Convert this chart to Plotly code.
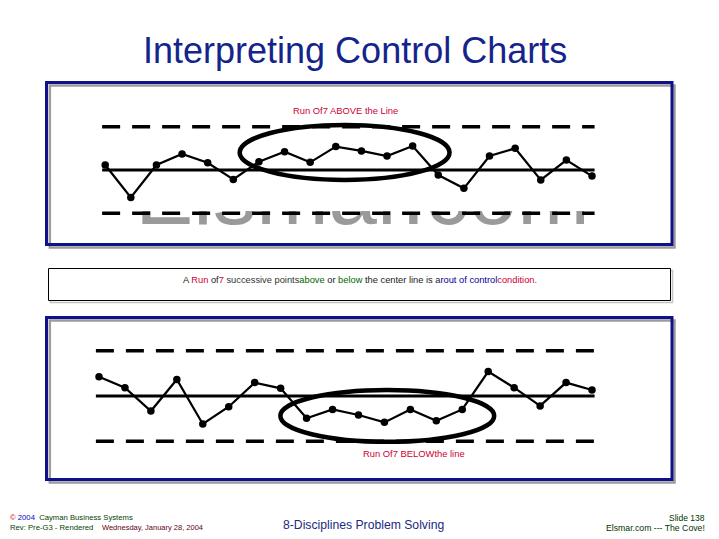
import plotly.graph_objects as go

W, H = 719, 539
FONT = "Liberation Sans, Arial, sans-serif"

# ---------------- data ----------------
points = list(range(1, 21))
top_values = [0.35, -1.9, 0.35, 1.11, 0.5, -0.65, 0.58, 1.27, 0.53, 1.62,
              1.32, 0.97, 1.66, -0.35, -1.27, 0.97, 1.5, -0.69, 0.69, -0.42]
bottom_values = [1.28, 0.55, -1.0, 1.1, -1.86, -0.71, 0.89, 0.51, -1.48, -0.89,
                 -1.26, -1.75, -0.89, -1.64, -0.89, 1.62, 0.55, -0.66, 0.89, 0.4]
ucl, center, lcl = 3, 0, -3
limit_span = [0.88, 20.1]
top_run = [6.25, 14.44, -0.69, 3.12]      # x0, x1, y0, y1 of the "run" ellipse
bottom_run = [7.99, 16.23, -3.04, 0.4]
top_label = "Run Of7 ABOVE the Line"
bottom_label = "Run Of7 BELOWthe line"
title = "Interpreting Control Charts"
watermark = "Elsmar.com"

# ---------------- helpers (pixel layout) ----------------
def px_x(v):
    return v / W

def px_y(v):
    return 1 - v / H

def x_axis(first_px, last_px, dom0, dom1):
    ppu = (last_px - first_px) / (points[-1] - points[0])
    r0 = points[0] - (first_px - dom0) / ppu
    r1 = points[0] + (dom1 - first_px) / ppu
    return dict(domain=[dom0 / W, dom1 / W], range=[r0, r1], visible=False, fixedrange=True)

def y_axis(center_px, ucl_px, top_px, bot_px):
    ppu = (center_px - ucl_px) / ucl
    lo = (center_px - bot_px) / ppu
    hi = (center_px - top_px) / ppu
    return dict(domain=[1 - bot_px / H, 1 - top_px / H], range=[lo, hi], visible=False, fixedrange=True)

fig = go.Figure()

# watermark (subplot 1, clipped band)
fig.add_trace(go.Scatter(x=[362.5], y=[202.5], mode="text", text=[watermark],
                         textposition="middle center", cliponaxis=True,
                         textfont=dict(family=FONT, size=87, color="#9a9a9a"),
                         xaxis="x", yaxis="y", hoverinfo="skip", showlegend=False))

def add_chart(values, xa, ya):
    for lvl in (ucl, lcl):
        fig.add_trace(go.Scatter(x=limit_span, y=[lvl, lvl], mode="lines",
                                 line=dict(color="black", width=3.5, dash="18px,12px"),
                                 xaxis=xa, yaxis=ya, hoverinfo="skip", showlegend=False))
    fig.add_trace(go.Scatter(x=limit_span, y=[center, center], mode="lines",
                             line=dict(color="black", width=3),
                             xaxis=xa, yaxis=ya, hoverinfo="skip", showlegend=False))
    fig.add_trace(go.Scatter(x=points, y=values, mode="lines+markers",
                             line=dict(color="black", width=2.2),
                             marker=dict(color="black", size=7.5),
                             xaxis=xa, yaxis=ya, hoverinfo="skip", showlegend=False))

add_chart(top_values, "x2", "y2")
add_chart(bottom_values, "x3", "y3")

shapes = []
# middle text box
shapes.append(dict(type="rect", xref="paper", yref="paper", layer="below",
                   x0=px_x(50.5), x1=px_x(672.5), y0=px_y(270.5), y1=px_y(302.5),
                   line=dict(color="#c4c4c4", width=1.5)))
shapes.append(dict(type="rect", xref="paper", yref="paper", layer="below",
                   x0=px_x(48.5), x1=px_x(670.5), y0=px_y(268.5), y1=px_y(300.5),
                   line=dict(color="black", width=1), fillcolor="white"))
# panel frames
for top, bot in ((82.5, 244.5), (317.5, 479.5)):
    shapes.append(dict(type="rect", xref="paper", yref="paper", layer="above",
                       x0=px_x(49.8), x1=px_x(674.5), y0=px_y(top + 3), y1=px_y(bot + 3),
                       line=dict(color="#9c9c9c", width=2.5)))
    shapes.append(dict(type="rect", xref="paper", yref="paper", layer="above",
                       x0=px_x(46.5), x1=px_x(672), y0=px_y(top), y1=px_y(bot),
                       line=dict(color="#10108a", width=3)))
# run ellipses
for (x0, x1, y0, y1), xa, ya in ((top_run, "x2", "y2"), (bottom_run, "x3", "y3")):
    shapes.append(dict(type="circle", xref=xa, yref=ya, x0=x0, x1=x1, y0=y0, y1=y1,
                       line=dict(color="black", width=4.5), layer="above"))

def ann(text, x, y, size, color, xanchor="center", yanchor="middle"):
    return dict(text=text, x=px_x(x), y=px_y(y), xref="paper", yref="paper",
                xanchor=xanchor, yanchor=yanchor, showarrow=False,
                font=dict(family=FONT, size=size, color=color))

red, green, navy, black = "#cc0033", "#006600", "#000099", "#1a1a1a"
mid_text = (f'<span style="color:{black}">A </span><span style="color:{red}">Run</span>'
            f'<span style="color:{black}"> of</span><span style="color:{red}">7</span>'
            f'<span style="color:#333333"> successive points</span><span style="color:{green}">above</span>'
            f'<span style="color:{black}"> or </span><span style="color:{green}">below</span>'
            f'<span style="color:{black}"> the center line is a</span>'
            f'<span style="color:{navy}">rout of control</span><span style="color:{red}">condition.</span>')

annotations = [
    ann(title, 354.5, 51, 36, "#14248c"),
    ann(top_label, 345.5, 110.5, 9.4, "#cc0033"),
    ann(bottom_label, 414, 453.5, 9.4, "#cc0033"),
    ann(mid_text, 360, 280, 9.3, black),
    ann('<span style="color:#cc0000">©</span> <span style="color:#0000cc">2004</span>'
        '<span style="color:#004400">\u00a0 Cayman Business Systems</span>', 8, 517, 7.7, "#004400", xanchor="left"),
    ann("Rev: Pre-G3 - Rendered", 8, 527, 7.7, "#004400", xanchor="left"),
    ann("Wednesday, January 28, 2004", 100, 527, 7.5, "#660022", xanchor="left"),
    ann("8-Disciplines Problem Solving", 363.5, 524.5, 12.2, "#1a2a80"),
    ann("Slide 138", 707, 518, 8.5, "#003300", xanchor="right"),
    ann("Elsmar.com --- The Cove!", 707, 528, 8.7, "#003300", xanchor="right"),
]

fig.update_layout(
    width=W, height=H, margin=dict(l=0, r=0, t=0, b=0),
    paper_bgcolor="white", plot_bgcolor="rgba(0,0,0,0)",
    showlegend=False,
    xaxis=dict(domain=[45 / W, 673 / W], range=[45, 673], visible=False, fixedrange=True),
    yaxis=dict(domain=[1 - 233.5 / H, 1 - 211 / H], range=[233.5, 211], visible=False, fixedrange=True),
    xaxis2=x_axis(105.2, 592, 50, 670),
    yaxis2=y_axis(170, 126.7, 88, 243),
    xaxis3=x_axis(99, 592, 50, 670),
    yaxis3=y_axis(396, 350.8, 322, 477),
    shapes=shapes, annotations=annotations,
)

fig.write_html("out.html", config={"displayModeBar": False},
               post_script="document.body.style.margin='0px';document.body.style.overflow='hidden';")
